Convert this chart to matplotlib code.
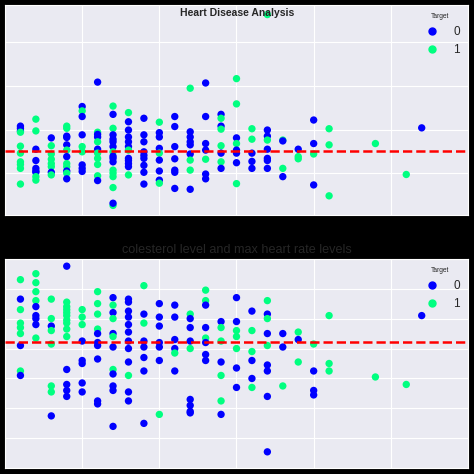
import numpy as np
import matplotlib
matplotlib.use('Agg')
import matplotlib.pyplot as plt
from matplotlib.lines import Line2D
import seaborn as sns

# edad vs colesterol (panel superior)
edad_col = [51]*10 + [52]*9 + [53]*8 + [54]*12 + [55]*9 + [56]*11 + [57]*17 + [58]*12 + \
    [59]*9 + [60]*9 + [61]*7 + [62]*9 + [63]*7 + [64]*8 + [65]*8 + [66]*5 + [67]*8 + \
    [68]*4 + [69]*3 + [70]*4 + [71]*3 + [74] + [76] + [77]
chol = [308, 303, 297, 294, 262, 246, 226, 220, 211, 175,
        324, 297, 255, 229, 211, 205, 202, 192, 184,
        281, 263, 244, 232, 222, 215, 202, 196,
        308, 303, 285, 282, 265, 253, 238, 222, 215, 205, 200, 187,
        353, 343, 330, 288, 261, 249, 219, 211, 204,
        409, 294, 289, 283, 272, 255, 246, 234, 220, 194, 183,
        354, 335, 303, 288, 278, 272, 261, 249, 239, 234, 226, 207, 200, 192, 167, 126, 131,
        339, 318, 299, 283, 272, 261, 253, 234, 229, 222, 215, 196,
        326, 288, 272, 249, 241, 234, 218, 202, 175,
        317, 293, 283, 257, 246, 230, 205, 184, 177,
        330, 307, 261, 233, 207, 202, 165,
        395, 295, 283, 272, 265, 244, 230, 207, 163,
        407, 330, 268, 253, 232, 198, 187,
        335, 326, 308, 301, 263, 246, 226, 211,
        417, 359, 281, 268, 253, 246, 224, 176,
        302, 278, 246, 227, 211,
        564, 299, 285, 276, 255, 234, 229, 211,
        276, 274, 211, 192,
        255, 238, 233,
        322, 268, 244, 173,
        302, 265, 148,
        268, 197, 304]
target_col = [0, 0, 0, 1, 1, 1, 1, 1, 1, 1,
              1, 1, 0, 0, 0, 0, 0, 1, 1,
              0, 1, 1, 1, 1, 1, 0, 1,
              1, 1, 0, 0, 0, 1, 0, 1, 1, 0, 1, 0,
              0, 1, 0, 0, 1, 1, 0, 0, 0,
              0, 1, 0, 0, 1, 0, 1, 1, 1, 1, 0,
              1, 0, 1, 0, 0, 0, 0, 1, 0, 0, 0, 1, 1, 1, 1, 1, 0,
              1, 0, 0, 0, 0, 0, 1, 0, 0, 0, 0, 1,
              0, 0, 0, 0, 0, 0, 0, 0, 0,
              1, 0, 0, 0, 1, 0, 0, 0, 1,
              0, 0, 0, 0, 0, 0, 0,
              1, 0, 0, 0, 0, 0, 1, 1, 0,
              0, 0, 0, 0, 1, 0, 0,
              0, 1, 0, 1, 1, 0, 1, 0,
              1, 1, 0, 1, 0, 0, 0, 1,
              1, 1, 0, 0, 0,
              1, 0, 0, 1, 0, 0, 0, 0,
              1, 0, 1, 0,
              0, 1, 1,
              0, 0, 1, 0,
              1, 1, 1,
              1, 1, 0]

# edad vs frecuencia cardiaca maxima (panel inferior)
edad_fc = [51]*9 + [52]*9 + [53]*8 + [54]*14 + [55]*8 + [56]*10 + [57]*12 + [58]*12 + \
    [59]*8 + [60]*7 + [61]*6 + [62]*9 + [63]*8 + [64]*7 + [65]*7 + [66]*6 + [67]*9 + \
    [68]*3 + [69]*3 + [70]*4 + [71]*3 + [74] + [76] + [77]
thalach = [186, 173, 166, 157, 154, 150, 142, 125, 122,
           190, 184, 178, 172, 168, 162, 160, 156, 147,
           173, 160, 155, 152, 143, 115, 111, 95,
           195, 171, 168, 166, 164, 162, 159, 157, 153, 148, 126, 116, 112, 108,
           166, 161, 156, 145, 132, 130, 117, 111,
           178, 170, 163, 153, 150, 144, 142, 133, 105, 103,
           174, 169, 164, 160, 150, 148, 141, 126, 123, 115, 112, 88,
           173, 171, 165, 161, 156, 151, 145, 140, 131, 122, 111, 105,
           182, 163, 157, 145, 141, 134, 125, 90,
           170, 161, 155, 144, 141, 132, 96,
           169, 161, 146, 140, 137, 125,
           163, 160, 154, 145, 140, 106, 102, 98, 97,
           179, 172, 169, 154, 147, 144, 136, 132,
           158, 154, 145, 131, 122, 105, 96,
           174, 158, 152, 148, 140, 127, 114,
           165, 152, 138, 132, 120, 114,
           172, 163, 160, 150, 142, 129, 125, 108, 71,
           150, 141, 115,
           151, 146, 131,
           143, 125, 112, 109,
           162, 130, 125,
           121, 116, 162]
target_fc = [1, 0, 1, 1, 1, 1, 0, 1, 0,
             1, 1, 1, 1, 0, 0, 0, 0, 1,
             1, 1, 0, 1, 1, 1, 1, 0,
             0, 1, 1, 1, 1, 1, 1, 1, 1, 1, 0, 0, 0, 0,
             1, 1, 1, 0, 0, 0, 0, 0,
             1, 1, 1, 1, 0, 0, 0, 0, 0, 0,
             0, 1, 0, 1, 0, 1, 0, 1, 0, 0, 0, 0,
             0, 0, 0, 0, 0, 0, 0, 0, 0, 1, 0, 0,
             1, 0, 1, 0, 0, 0, 0, 0,
             0, 0, 0, 0, 0, 0, 1,
             0, 0, 0, 0, 1, 0,
             1, 0, 0, 0, 1, 0, 0, 0, 0,
             1, 1, 0, 0, 1, 0, 0, 0,
             0, 1, 1, 0, 1, 1, 0,
             0, 0, 1, 1, 1, 0, 0,
             0, 1, 1, 0, 0, 1,
             1, 0, 1, 0, 1, 0, 0, 0, 0,
             0, 0, 1,
             1, 0, 1,
             1, 0, 0, 0,
             1, 1, 1,
             1, 1, 0]

# promedios (lineas rojas punteadas)
media_col = 251.7
media_fc = 144.6

sns.set_style('darkgrid')
plt.rcParams['font.family'] = ['Liberation Sans', 'DejaVu Sans']

fig = plt.figure(figsize=(4.74, 4.74), dpi=100, facecolor='black')
H = 474.0
ax1 = fig.add_axes([5/H, 1-215/H, 463/H, 210/H])
ax2 = fig.add_axes([5/H, 1-468.3/H, 463/H, 209.6/H])

cm = plt.get_cmap('winter')
handles = [Line2D([], [], ls='', marker='o', color=cm(0.0), markersize=5),
           Line2D([], [], ls='', marker='o', color=cm(1.0), markersize=5)]

for ax, x, y, t, m in [(ax1, edad_col, chol, target_col, media_col),
                       (ax2, edad_fc, thalach, target_fc, media_fc)]:
    ax.scatter(x, y, c=t, cmap='winter', vmin=0, vmax=1, s=28, linewidths=0, zorder=3)
    ax.axhline(m, color='red', ls='--', lw=1.8, zorder=4)
    ax.set_xlim(50, 80)
    ax.tick_params(labelbottom=False, labelleft=False)
    ax.legend(handles, ['0', '1'], title='Target', loc='upper right', frameon=False,
              fontsize=8.5, title_fontsize=4.8, handletextpad=0.8, borderaxespad=0.3)

ax1.set_ylim(104, 586)
ax2.set_ylim(60, 200)

# titulos
fig.text(0.5, 1-13.3/H, 'Heart Disease Analysis', ha='center', va='center',
         fontsize=7.5, fontweight='bold', color='.15')
fig.text(0.5, 1-250/H, 'colesterol level and max heart rate levels', ha='center',
         va='center', fontsize=9.1, color='.15')

plt.savefig('out.png', dpi=100, facecolor='black')
